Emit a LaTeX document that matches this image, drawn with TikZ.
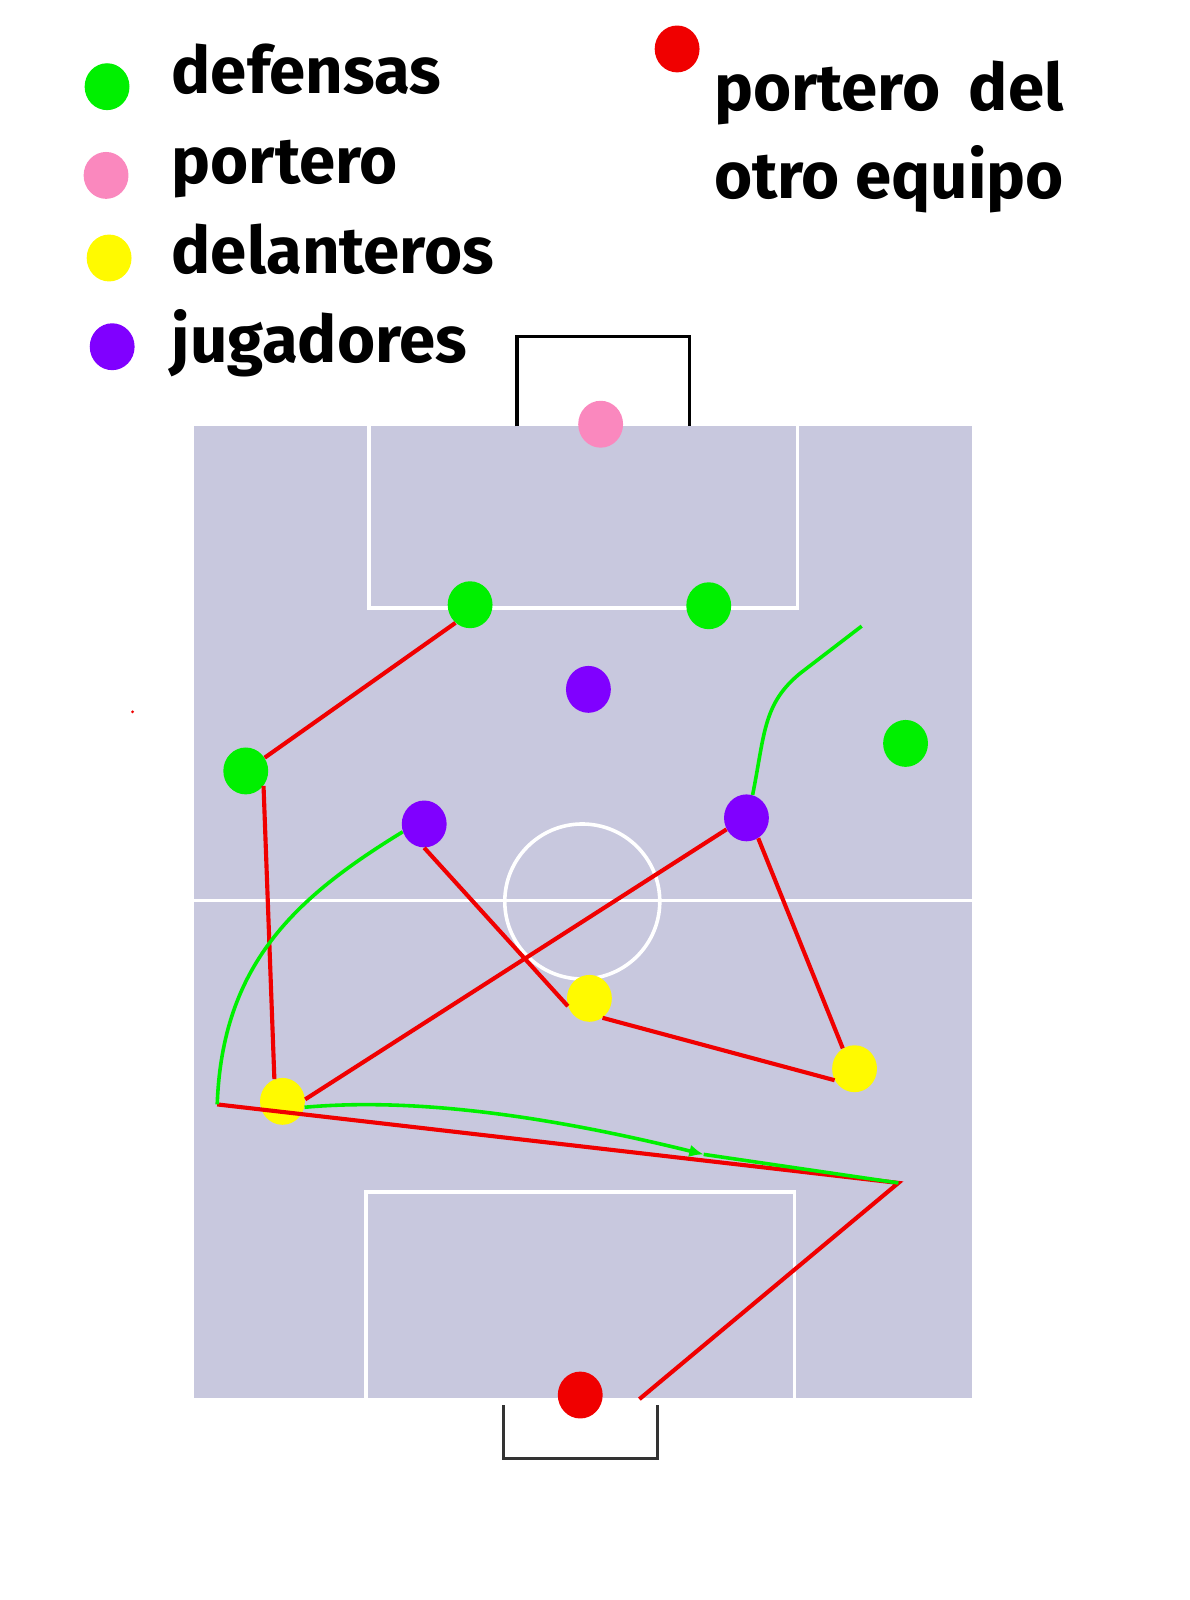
\documentclass[tikz,border=0pt]{standalone}
\usepackage{fontspec}
\setmainfont{Fira Sans}
\usetikzlibrary{arrows.meta,shapes.geometric}

\definecolor{campo}{RGB}{200,200,222}
\definecolor{verde}{RGB}{0,240,0}
\definecolor{rosa}{RGB}{250,136,190}
\definecolor{amarillo}{RGB}{255,250,0}
\definecolor{morado}{RGB}{128,0,255}
\definecolor{rojo}{RGB}{240,0,0}

\begin{document}
\begin{tikzpicture}[x=0.02cm,y=-0.02cm,
  ficha/.style={ellipse,inner sep=0pt,minimum width=0.88cm,minimum height=0.92cm,fill=#1},
  etiqueta/.style={anchor=base west,inner sep=0pt,font=\fontsize{36.5}{42}\selectfont\bfseries},
  linea/.style={white,line width=2pt},
  porteria/.style={line width=1.9pt},
  pase/.style={rojo,line width=2.3pt},
  carrera/.style={verde,line width=2pt}]
\useasboundingbox (0,0) rectangle (1166,1569);

% campo
\fill[campo] (190,418) rectangle (953,1371);
\draw[linea] (362,418) |- (782,596) -- (782,418);
\draw[linea] (190,883) -- (953,883);
\draw[linea] (571,884) circle (76);
\draw[linea] (359,1371) |- (779,1169) -- (779,1371);

% porterias
\draw[porteria] (507,418) -- (507,330) -- (676,330) -- (676,418);
\draw[porteria,black!80] (494,1378) -- (494,1430) -- (645,1430) -- (645,1378);

% leyenda
\node[ficha=verde] (l1) at (105,85) {};
\node[etiqueta] (t1) at (168,92) {defensas};
\node[ficha=rosa] (l2) at (104,172) {};
\node[etiqueta] (t2) at (168,180) {portero};
\node[ficha=amarillo] (l3) at (107,253) {};
\node[etiqueta] (t3) at (168,268) {delanteros};
\node[ficha=morado] (l4) at (110,340) {};
\node[etiqueta] (t4) at (168,355) {jugadores};
\node[ficha=rojo] (l5) at (664,48) {};
\node[etiqueta] (t5) at (700,108) {portero\hspace{0.2em} del};
\node[etiqueta] (t6) at (700,195) {otro equipo};
\fill[rojo] (130,698) circle (1.5);

% jugadores
\node[ficha=rosa] (pt) at (589,416) {};
\node[ficha=rojo] (pr) at (569,1368) {};
\node[ficha=verde] (d1) at (461,593) {};
\node[ficha=verde] (d2) at (695,594) {};
\node[ficha=verde] (d3) at (241,756) {};
\node[ficha=verde] (d4) at (888,729) {};
\node[ficha=morado] (j1) at (577,676) {};
\node[ficha=morado] (j2) at (416,808) {};
\node[ficha=morado] (j3) at (732,802) {};
\node[ficha=amarillo] (a1) at (578,979) {};
\node[ficha=amarillo] (a2) at (838,1048) {};
\node[ficha=amarillo] (a3) at (277,1080) {};

\coordinate (esquina) at (213,1083);
\coordinate (rebote) at (881,1160);
\coordinate (tiro) at (627,1372);
\coordinate (punta) at (690,1132);
\coordinate (subida) at (845,614);

% pases
\draw[pase] (d1.231) -- (d3.35);
\draw[pase] (d3.-40) -- (a3.110);
\draw[pase] (j2.-90) -- (a1.200);
\draw[pase] (j3.210) -- (a3.5);
\draw[pase] (j3.-60) -- (a2.120);
\draw[pase] (a1.-56) -- (a2.-150);
\draw[pase] (esquina) -- (rebote) -- (tiro);

% carreras
\draw[carrera] (j2.200) .. controls (290,880) and (218,945) .. (esquina);
\draw[carrera] (j3.75) .. controls (750,720) and (748,690) .. (785,660) -- (subida);
\draw[carrera,-{Latex[length=8pt,width=7pt]}] (a3.-15) .. controls (420,1075) and (560,1100) .. (punta);
\draw[carrera] (punta) -- (rebote);
\end{tikzpicture}
\end{document}
